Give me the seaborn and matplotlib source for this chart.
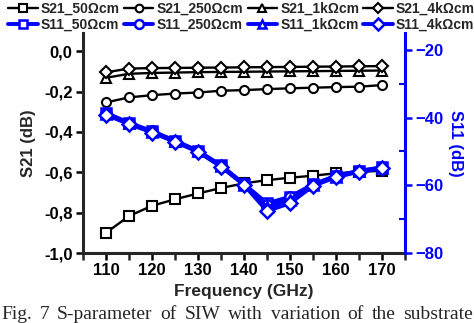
import matplotlib
matplotlib.use("Agg")
import matplotlib.pyplot as plt
import seaborn as sns
import pandas as pd
from matplotlib.ticker import MultipleLocator, FuncFormatter

freq = [110, 115, 120, 125, 130, 135, 140, 145, 150, 155, 160, 165, 170]

s21_50 = [-0.900, -0.817, -0.766, -0.734, -0.705, -0.678, -0.655, -0.639, -0.627, -0.617, -0.605, -0.598, -0.593]
s21_250 = [-0.254, -0.229, -0.218, -0.210, -0.205, -0.196, -0.193, -0.188, -0.184, -0.181, -0.178, -0.176, -0.168]
s21_1k = [-0.132, -0.112, -0.108, -0.106, -0.104, -0.103, -0.102, -0.101, -0.100, -0.099, -0.098, -0.097, -0.096]
s21_4k = [-0.105, -0.086, -0.084, -0.083, -0.082, -0.081, -0.080, -0.079, -0.078, -0.077, -0.076, -0.075, -0.074]

s11_50 = [-38.6, -41.5, -44.0, -46.8, -49.8, -54.1, -59.6, -65.3, -63.4, -59.7, -57.2, -55.7, -54.7]
s11_250 = [-38.8, -41.6, -44.1, -46.9, -49.9, -54.2, -59.7, -65.8, -63.6, -59.8, -57.3, -55.8, -54.8]
s11_1k = [-39.0, -41.7, -44.2, -47.0, -50.0, -54.3, -59.8, -66.5, -64.2, -60.0, -57.4, -55.9, -54.9]
s11_4k = [-39.2, -41.9, -44.4, -47.2, -50.1, -54.5, -59.9, -67.6, -65.3, -60.2, -57.6, -56.0, -55.0]

labels_s21 = ["S21_50\u03a9cm", "S21_250\u03a9cm", "S21_1k\u03a9cm", "S21_4k\u03a9cm"]
labels_s11 = ["S11_50\u03a9cm", "S11_250\u03a9cm", "S11_1k\u03a9cm", "S11_4k\u03a9cm"]
markers = ["s", "o", "^", "D"]

caption_words = ["Fig.", "7", "S-parameter", "of", "SIW", "with", "variation", "of", "the", "substrate"]

sns.set_style("ticks")
plt.rcParams['font.family'] = ['Liberation Sans', 'DejaVu Sans']
plt.rcParams['font.weight'] = 'bold'

W, H = 474, 323
fig = plt.figure(figsize=(W/100, H/100), dpi=100)
ax = fig.add_axes([83/W, 1-253/H, (405-83)/W, (253-33)/H])
ax2 = ax.twinx()

BLUE = "#0000ff"
h21, h11 = [], []
for vals, lab, m in zip([s21_50, s21_250, s21_1k, s21_4k], labels_s21, markers):
    df = pd.DataFrame({"f": freq, "v": vals})
    sns.lineplot(data=df, x="f", y="v", ax=ax, color="black", lw=1.7,
                 marker=m, markersize=6.5 if m != "D" else 6, markerfacecolor="white",
                 markeredgecolor="black", markeredgewidth=1.5, label=lab, legend=False)
    h21.append(ax.lines[-1])
for vals, lab, m in zip([s11_50, s11_250, s11_1k, s11_4k], labels_s11, markers):
    df = pd.DataFrame({"f": freq, "v": vals})
    sns.lineplot(data=df, x="f", y="v", ax=ax2, color=BLUE, lw=2.8,
                 marker=m, markersize=7.5 if m != "D" else 7, markerfacecolor="white",
                 markeredgecolor=BLUE, markeredgewidth=1.8, label=lab, legend=False)
    h11.append(ax2.lines[-1])

ax.set_xlim(105, 175)
ax.set_ylim(-1.0, 0.09)
ax2.set_ylim(-80, -15)

ax.xaxis.set_major_locator(MultipleLocator(10))
ax.xaxis.set_minor_locator(MultipleLocator(5))
ax.yaxis.set_major_locator(MultipleLocator(0.2))
ax.yaxis.set_major_formatter(FuncFormatter(lambda v, p: f"{v:.1f}".replace(".", ",").replace("-0,0", "0,0")))
ax2.yaxis.set_major_locator(MultipleLocator(20))
ax2.yaxis.set_minor_locator(MultipleLocator(10))

ax.tick_params(axis='both', which='major', direction='out', length=5, width=1.8,
               labelsize=12, color='black', labelcolor='black', pad=2.5)
ax.tick_params(axis='x', which='minor', direction='out', length=5, width=1.8)
ax2.tick_params(axis='y', which='major', direction='out', length=5, width=1.8,
                labelsize=12, color=BLUE, labelcolor=BLUE, pad=2.5)
ax2.tick_params(axis='y', which='minor', direction='in', length=4, width=1.5, color=BLUE)
for t in ax.get_xticklabels() + ax.get_yticklabels() + ax2.get_yticklabels():
    t.set_fontweight('bold')

for a in (ax, ax2):
    a.spines['top'].set_visible(False)
ax.spines['right'].set_visible(False)
ax2.spines['left'].set_visible(False)
ax2.spines['bottom'].set_visible(False)
ax.spines['left'].set_linewidth(2.2)
ax.spines['bottom'].set_linewidth(2.2)
ax2.spines['right'].set_linewidth(2.2)
ax2.spines['right'].set_color(BLUE)

ax.set_xlabel("Frequency (GHz)", fontsize=12.5, fontweight='bold', labelpad=4)
ax.set_ylabel("S21 (dB)", fontsize=12, fontweight='bold', labelpad=6)
ax2.set_ylabel("S11 (dB)", fontsize=12, fontweight='bold', color=BLUE, rotation=270, labelpad=14)

handles = []
labels = []
for a, b in zip(h21, h11):
    handles += [a, b]
    labels += [a.get_label(), b.get_label()]
fig.legend(handles, labels, ncol=4, loc='upper left', bbox_to_anchor=(0.0, 1.02),
           frameon=False, prop={'weight': 'bold', 'size': 10}, markerscale=0.85,
           handlelength=2.1, handletextpad=0.25, columnspacing=0.3, labelspacing=0.15,
           borderaxespad=0.2)

# justified caption: measure words, then spread them evenly over the width
renderer = fig.canvas.get_renderer()
texts = [fig.text(0, 1 - 319 / H, wd, family=['Liberation Serif'], fontsize=14.0,
                  fontweight='normal', ha='left', va='baseline') for wd in caption_words]
widths = [t.get_window_extent(renderer).width for t in texts]
left, right = 1.0, 473.0
gap = (right - left - sum(widths)) / (len(texts) - 1)
x = left
for t, w in zip(texts, widths):
    t.set_x(x / W)
    x += w + gap

fig.savefig("out.png", dpi=100)
